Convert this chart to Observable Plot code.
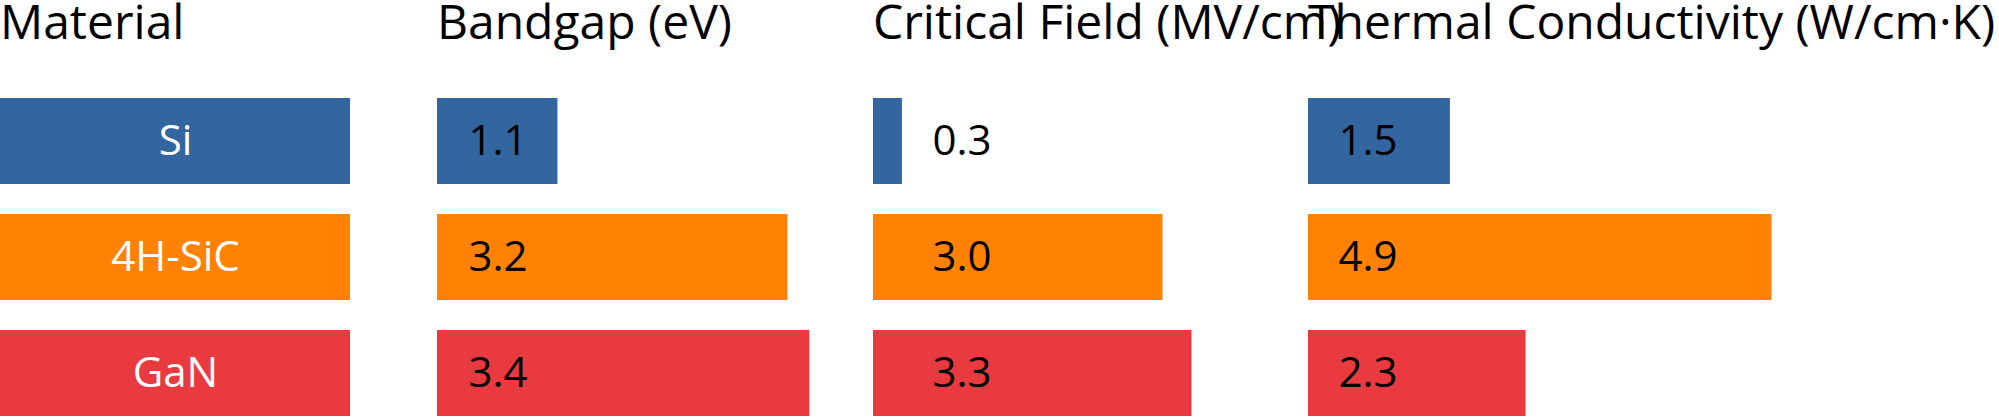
<!DOCTYPE html>
<html>
<head>
<meta charset="utf-8">
<script src="https://cdn.jsdelivr.net/npm/d3@7"></script>
<script src="https://cdn.jsdelivr.net/npm/@observablehq/plot@0.6"></script>
<style>
  html, body { margin: 0; padding: 0; background: #fff; }
  #chart { position: relative; width: 1999px; height: 419px; overflow: hidden; font-family: "Open Sans", sans-serif; }
  .col { position: absolute; top: 0; height: 419px; }
  .col svg { position: absolute; left: 0; top: 0; overflow: visible; }
  .hdr { position: absolute; left: 0; top: -3px; font-size: 48px; line-height: 1; white-space: nowrap; color: #000; z-index: 2; }
</style>
</head>
<body>
<div id="chart"></div>
<script>
// ---- data ----
const materials = ["Si", "4H-SiC", "GaN"];
const bandgap = [1.1, 3.2, 3.4];
const criticalField = [0.3, 3.0, 3.3];
const thermalConductivity = [1.5, 4.9, 2.3];
const headers = ["Material", "Bandgap (eV)", "Critical Field (MV/cm)", "Thermal Conductivity (W/cm·K)"];
const colors = ["#33669f", "#ff8204", "#e83a3f"];

// ---- layout ----
const H = 419;
const colLeft = [0, 437, 873, 1308];
const colWidth = [437, 436, 435, 691];
const yScale = { domain: materials, range: [98, 416], paddingInner: 0.26, paddingOuter: 0, align: 0.5 };
const colorScale = { domain: materials, range: colors };
const fmt = d3.format(".1f");

const chart = document.getElementById("chart");

function addColumn(i, plot) {
  const col = document.createElement("div");
  col.className = "col";
  col.style.left = colLeft[i] + "px";
  col.style.width = colWidth[i] + "px";
  const hdr = document.createElement("div");
  hdr.className = "hdr";
  hdr.textContent = headers[i];
  col.appendChild(plot);
  col.appendChild(hdr);
  chart.appendChild(col);
}

// Material column
addColumn(0, Plot.plot({
  width: colWidth[0], height: H,
  marginLeft: 0, marginRight: 87, marginTop: 0, marginBottom: 0,
  style: { background: "transparent", overflow: "visible", fontFamily: "Open Sans" },
  y: { ...yScale, axis: null },
  color: colorScale,
  marks: [
    Plot.cell(materials, { y: d => d, fill: d => d }),
    Plot.text(materials, { y: d => d, text: d => d, fill: "white", fontSize: 42, frameAnchor: "middle" })
  ]
}));

function valueColumn(i, values, xDomain, xRange, dx) {
  const rows = materials.map((m, k) => ({ material: m, value: values[k] }));
  return Plot.plot({
    width: colWidth[i], height: H,
    marginLeft: 0, marginRight: 0, marginTop: 0, marginBottom: 0,
    style: { background: "transparent", overflow: "visible", fontFamily: "Open Sans" },
    x: { domain: xDomain, range: xRange, axis: null },
    y: { ...yScale, axis: null },
    color: colorScale,
    marks: [
      Plot.barX(rows, { x: "value", y: "material", fill: "material" }),
      Plot.text(rows, { y: "material", text: d => fmt(d.value), frameAnchor: "left", textAnchor: "start", dx, fill: "#000", fontSize: 42 })
    ]
  });
}

addColumn(1, valueColumn(1, bandgap, [0, 4], [0, 438], 31));
addColumn(2, valueColumn(2, criticalField, [0, 4], [0, 386], 59));
addColumn(3, valueColumn(3, thermalConductivity, [0, 5], [0, 473], 30));
</script>
</body>
</html>
